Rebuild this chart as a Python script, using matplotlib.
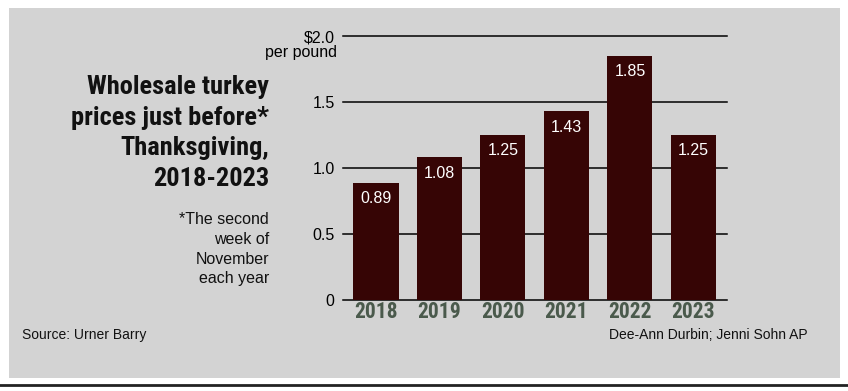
import matplotlib
matplotlib.use("Agg")
import matplotlib.pyplot as plt
from matplotlib.patches import Rectangle
from matplotlib import font_manager

years = ["2018", "2019", "2020", "2021", "2022", "2023"]
prices = [0.89, 1.08, 1.25, 1.43, 1.85, 1.25]
yticks = [0, 0.5, 1.0, 1.5, 2.0]
ytick_labels = ["0", "0.5", "1.0", "1.5", "$2.0"]

names = {f.name for f in font_manager.fontManager.ttflist}
narrow = "Roboto Condensed" if "Roboto Condensed" in names else ("Liberation Sans Narrow" if "Liberation Sans Narrow" in names else "Roboto")
sans = "Liberation Sans"

W, H = 848, 391
fig = plt.figure(figsize=(W/100, H/100), dpi=100)
fig.patch.set_facecolor("white")

def fx(px): return px / W
def fy(py): return 1 - py / H

panel = Rectangle((fx(9), fy(378)), fx(840) - fx(9), fy(8) - fy(378),
                  transform=fig.transFigure, facecolor="#d3d3d3", edgecolor="none", zorder=-10)
fig.patches.append(panel)
fig.add_artist(plt.Line2D([0, 1], [fy(385), fy(385)], transform=fig.transFigure,
                          color="#222222", lw=2))

ax = fig.add_axes([fx(343), fy(300), fx(727) - fx(343), fy(36) - fy(300)])
ax.set_zorder(5)
ax.set_facecolor("none")
x = list(range(len(years)))
bars = ax.bar(x, prices, width=0.71, color="#360505", zorder=3)
for xi, v in zip(x, prices):
    ax.text(xi, v - 0.12, f"{v:.2f}", ha="center", va="center", color="white",
            fontsize=11.5, family=sans, zorder=4)
ax.set_xlim(-0.52, 5.53)
ax.set_ylim(0, 2.0)
for yv in yticks:
    ax.axhline(yv, color="black", lw=1.1, zorder=1, clip_on=False)
ax.set_yticks(yticks)
ax.set_yticklabels(ytick_labels, family=sans, fontsize=11.5)
ax.tick_params(axis="y", length=0, pad=6)
ax.set_xticks(x)
ax.set_xticklabels(years, family=narrow, fontsize=15.5, fontweight="bold", color="#4a5a4c")
ax.tick_params(axis="x", length=0, pad=1)
for s in ax.spines.values():
    s.set_visible(False)

fig.text(fx(337), fy(52), "per pound", ha="right", va="center", family=sans, fontsize=11.5)

title = ["Wholesale turkey", "prices just before*", "Thanksgiving,", "2018-2023"]
for i, line in enumerate(title):
    fig.text(fx(269), fy(87 + i * 30.5), line, ha="right", va="center", family=narrow,
             fontsize=19, fontweight="bold", color="#111111")
note = ["*The second", "week of", "November", "each year"]
for i, line in enumerate(note):
    fig.text(fx(269), fy(219 + i * 20), line, ha="right", va="center", family=sans,
             fontsize=11.5, color="#111111")

fig.text(fx(22), fy(335), "Source: Urner Barry", ha="left", va="center", family=sans,
         fontsize=10, color="#111111")
fig.text(fx(808), fy(335), "Dee-Ann Durbin; Jenni Sohn AP", ha="right", va="center",
         family=sans, fontsize=10, color="#111111")

fig.savefig("out.png", dpi=100, facecolor="white")
